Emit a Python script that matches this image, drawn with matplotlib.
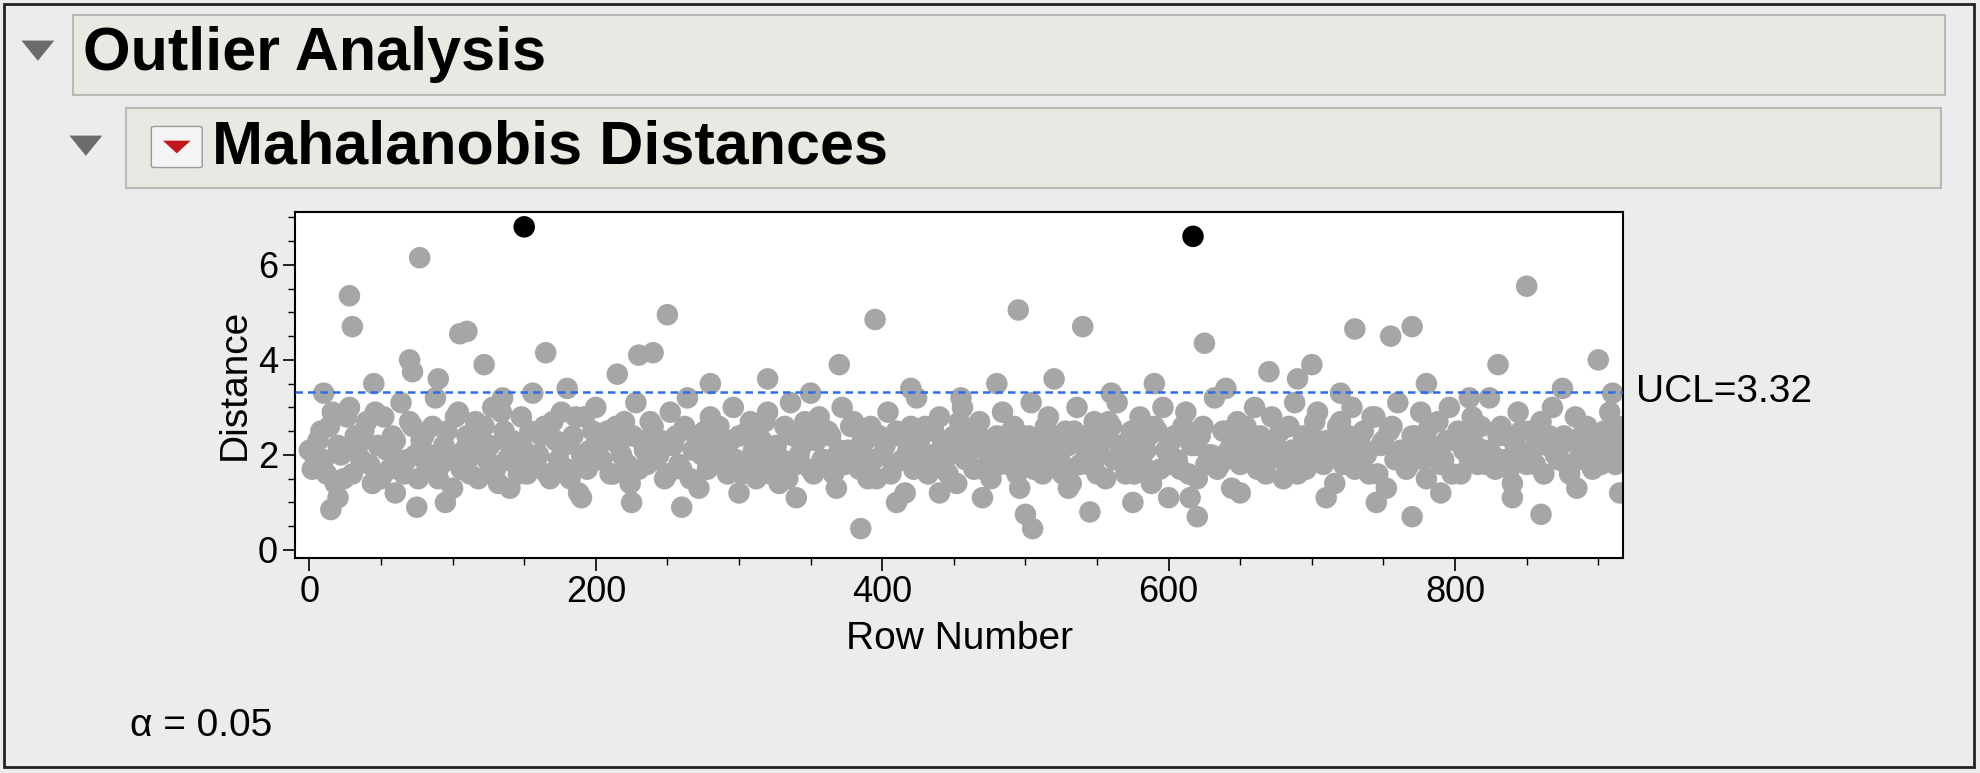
import matplotlib
matplotlib.use("Agg")
import matplotlib.pyplot as plt
from matplotlib.patches import Rectangle, Polygon, FancyBboxPatch
import numpy as np

plt.rcParams['font.family'] = ['Liberation Sans', 'DejaVu Sans']

# Bulk of the Mahalanobis distances (every 4th row, read approximately)
bulk_rows = list(range(0, 920, 4))
bulk_dist = [
 2.1,1.8,2.5,1.6,2.9,2.2,1.5,3.0,2.4,1.9,2.7,1.4,2.2,2.8,1.7,2.3,3.1,1.9,2.6,1.5,
 2.4,2.0,3.2,1.8,2.5,1.3,2.9,2.1,1.6,2.7,2.3,1.9,3.0,1.4,2.5,2.2,1.8,2.8,1.6,3.3,
 2.0,2.6,1.5,2.3,2.9,1.7,2.4,1.2,2.8,2.1,3.0,1.9,2.5,1.6,2.2,2.7,1.4,3.1,2.3,1.8,
 2.6,2.0,1.5,2.9,2.4,1.7,3.2,2.1,1.3,2.5,2.8,1.9,2.2,1.6,3.0,2.4,1.8,2.7,1.5,2.3,
 2.9,2.0,1.4,2.6,3.1,1.8,2.2,2.5,1.6,2.8,1.9,2.4,1.3,3.0,2.1,2.7,1.7,2.3,2.6,1.5,
 2.0,2.9,1.8,2.4,1.2,2.6,3.2,2.0,1.6,2.5,2.8,1.9,2.2,1.4,3.0,2.3,1.7,2.7,2.1,1.5,
 2.4,2.9,1.8,2.6,1.3,2.2,3.1,2.0,1.6,2.8,2.4,1.9,2.5,1.4,3.0,2.2,1.8,2.7,2.0,1.5,
 2.6,3.1,1.9,2.3,1.6,2.8,2.1,1.4,2.5,3.0,1.8,2.4,1.7,2.9,2.2,1.5,2.6,2.0,3.2,1.8,
 2.5,1.3,2.7,2.2,1.9,3.0,2.4,1.6,2.8,2.1,1.5,2.6,3.1,2.0,1.7,2.4,2.9,1.8,2.3,1.4,
 2.7,2.1,3.0,1.9,2.5,1.6,2.8,2.2,1.3,2.6,3.1,2.0,1.8,2.4,2.9,1.5,2.2,2.7,1.9,3.0,
 2.3,1.6,2.5,2.8,1.8,2.1,3.2,1.7,2.6,2.4,1.4,2.9,2.0,2.5,1.8,2.7,2.2,3.0,1.9,2.4,
 1.6,2.8,2.1,2.6,1.7,2.3,2.5,2.9,1.8,2.2,
]

# Second pass of rows in between (read approximately)
bulk2_rows = list(range(2, 920, 4))
bulk2_dist = [
 1.7,2.3,1.9,2.6,1.4,2.0,2.8,1.6,2.2,2.5,1.8,2.9,1.5,2.1,2.4,1.9,1.6,2.7,2.0,2.3,
 1.8,2.6,1.5,2.2,1.9,2.8,1.7,2.4,2.0,1.5,2.6,2.2,1.7,2.9,1.9,2.3,1.6,2.1,2.5,1.8,
 2.4,1.6,2.7,1.9,2.2,1.5,2.8,2.0,1.7,2.5,1.9,2.3,1.6,2.6,2.0,1.8,2.4,1.7,2.1,2.7,
 1.9,2.3,1.6,2.2,1.8,2.6,1.5,2.4,2.0,1.7,2.2,2.6,1.8,2.3,1.9,1.6,2.5,2.1,1.9,2.7,
 1.6,2.2,1.9,1.5,2.4,2.0,2.7,1.7,2.3,1.9,2.5,1.6,2.1,1.8,2.6,2.0,2.3,1.5,1.9,2.4,
 2.2,1.6,2.5,1.9,2.1,1.7,2.3,2.6,2.0,1.8,2.2,1.6,2.4,2.7,1.9,2.1,2.5,1.7,2.3,2.0,
 1.8,2.2,2.5,1.6,2.0,2.4,1.7,2.3,2.6,1.9,2.1,1.6,2.2,2.5,1.8,2.4,2.0,1.6,2.3,2.7,
 1.9,2.2,1.6,2.5,2.0,1.8,2.4,2.6,1.7,2.1,2.3,1.9,2.6,1.6,2.2,2.4,1.8,2.0,1.7,2.5,
 2.1,2.4,1.8,2.6,2.2,1.7,2.0,1.9,2.3,2.5,1.8,2.1,1.6,2.4,2.2,2.7,1.9,2.3,2.0,2.6,
 1.8,2.4,1.7,2.2,2.0,2.8,1.6,2.3,2.5,1.9,2.1,1.7,2.4,2.2,1.9,2.6,2.0,1.8,2.3,1.6,
 2.5,2.1,1.9,2.2,2.6,1.8,2.0,2.4,1.9,1.7,2.2,2.5,1.8,2.1,2.3,1.6,2.4,2.0,2.2,1.8,
 2.3,1.9,2.5,2.0,2.2,1.8,2.1,2.4,2.6,2.0,
]

# Additional points read individually
extra_rows = [28,30,77,70,72,105,110,122,165,240,250,230,395,370,495,540,625,670,700,730,755,770,850,900,
              15,75,260,385,505,500,620,615,770,860,545,600,
              10,45,90,135,180,215,280,320,350,420,455,480,520,560,590,640,690,720,780,810,830,875,910,
              20,60,95,140,190,225,300,340,410,440,470,530,575,650,710,745,790,840,885,915]
extra_dist = [5.35,4.7,6.15,4.0,3.75,4.55,4.6,3.9,4.15,4.15,4.95,4.1,4.85,3.9,5.05,4.7,4.35,3.75,3.9,4.65,4.5,4.7,5.55,4.0,
              0.85,0.9,0.9,0.45,0.45,0.75,0.7,1.1,0.7,0.75,0.8,1.1,
              3.3,3.5,3.6,3.2,3.4,3.7,3.5,3.6,3.3,3.4,3.2,3.5,3.6,3.3,3.5,3.4,3.6,3.3,3.5,3.2,3.9,3.4,3.3,
              1.1,1.2,1.0,1.3,1.1,1.0,1.2,1.1,1.0,1.2,1.1,1.3,1.0,1.2,1.1,1.0,1.2,1.1,1.3,1.2]

out_rows = [150, 617]
out_dist = [6.8, 6.6]
ucl = 3.32

W, H = 19.80, 7.73
fig = plt.figure(figsize=(W, H), dpi=100)
fig.patch.set_facecolor('#ececec')

def fx(x): return x / 1568
def fy(y): return 1 - y / 610

fig.add_artist(Rectangle((fx(3), fy(605)), fx(1560), fy(3) - fy(605), transform=fig.transFigure,
                         fill=False, lw=2, ec='#222222'))
fig.add_artist(Rectangle((fx(58), fy(75)), fx(1482), fy(12) - fy(75), transform=fig.transFigure,
                         fc='#e9e9e4', ec='#b9b9b4', lw=1.5))
fig.add_artist(Rectangle((fx(100), fy(148)), fx(1437), fy(85) - fy(148), transform=fig.transFigure,
                         fc='#e9e9e4', ec='#b9b9b4', lw=1.5))
for cx, cy in [(30, 40), (68, 115)]:
    fig.add_artist(Polygon([(fx(cx-13), fy(cy-8)), (fx(cx+13), fy(cy-8)), (fx(cx), fy(cy+8))],
                           closed=True, transform=fig.transFigure, fc='#6b6b6b', ec='none'))
fig.add_artist(FancyBboxPatch((fx(123), fy(131)), fx(34), fy(101) - fy(131), boxstyle='round,pad=0.002',
                              transform=fig.transFigure, fc='#f4f4f4', ec='#999999', lw=1))
fig.add_artist(Polygon([(fx(129), fy(111)), (fx(151), fy(111)), (fx(140), fy(121))], closed=True,
                       transform=fig.transFigure, fc='#c0161c', ec='none'))

fig.text(fx(66), fy(43), 'Outlier Analysis', fontsize=44, fontweight='bold', va='center', ha='left')
fig.text(fx(168), fy(117), 'Mahalanobis Distances', fontsize=44, fontweight='bold', va='center', ha='left')
fig.text(fx(103), fy(573), 'α = 0.05', fontsize=28, va='center', ha='left')

ax = fig.add_axes([fx(234), fy(440), fx(1285) - fx(234), fy(167) - fy(440)])
ax.set_facecolor('white')
ms = 240
ax.scatter(bulk_rows, bulk_dist, s=ms, c='#a6a6a6', edgecolors='none', zorder=2)
ax.scatter(bulk2_rows, bulk2_dist, s=ms, c='#a6a6a6', edgecolors='none', zorder=2)
ax.scatter(extra_rows, extra_dist, s=ms, c='#a6a6a6', edgecolors='none', zorder=2)
ax.scatter(out_rows, out_dist, s=ms, c='black', edgecolors='none', zorder=3)
ax.axhline(ucl, color='#2b6fe8', ls=(0, (3, 2)), lw=1.8, zorder=4)
ax.text(1.01, (ucl + 0.16) / 7.28, f'UCL={ucl}', transform=ax.transAxes, fontsize=28, va='center', ha='left')
ax.set_xlim(-9.7, 917)
ax.set_ylim(-0.16, 7.12)
ax.set_xticks([0, 200, 400, 600, 800])
ax.set_xticks(np.arange(0, 917, 50), minor=True)
ax.set_yticks([0, 2, 4, 6])
ax.set_yticks(np.arange(0, 7.1, 0.5), minor=True)
ax.tick_params(labelsize=26, length=9, width=1.2, direction='out')
ax.tick_params(which='minor', length=5, width=1)
ax.set_xlabel('Row Number', fontsize=28, labelpad=8)
ax.set_ylabel('Distance', fontsize=28)
for s in ax.spines.values():
    s.set_linewidth(1.5)

fig.savefig('out.png', dpi=100, facecolor=fig.get_facecolor())
